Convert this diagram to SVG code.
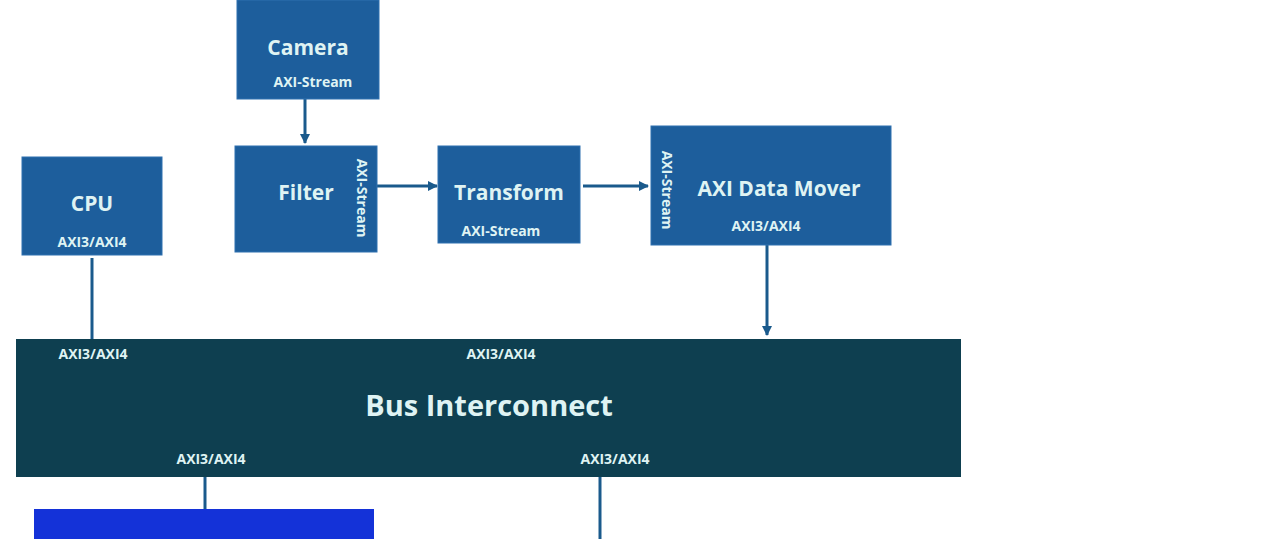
<svg xmlns="http://www.w3.org/2000/svg" width="1269" height="539" viewBox="0 0 1269 539">
<defs>
<marker id="ah" markerWidth="10" markerHeight="10" refX="9" refY="5" orient="auto" markerUnits="userSpaceOnUse"><path d="M0,0 L10,5 L0,10 z" fill="#1a5a8c"/></marker>
<style>
.box{fill:#1d5e9c;stroke:#2f70b0;stroke-width:1}
.t{font-family:"Open Sans","Liberation Sans",sans-serif;font-weight:bold;fill:#dff3f3;text-anchor:middle}
.big{font-size:21px}
.sm{font-size:14px}
.ln{stroke:#1a5a8c;stroke-width:3;fill:none}
</style>
</defs>
<rect width="1269" height="539" fill="#ffffff"/>
<g id="connectors">
<line class="ln" x1="305" y1="99" x2="305" y2="143" marker-end="url(#ah)"/>
<line class="ln" x1="377" y1="186" x2="437" y2="186" marker-end="url(#ah)"/>
<line class="ln" x1="583" y1="186" x2="648" y2="186" marker-end="url(#ah)"/>
<line class="ln" x1="92" y1="258" x2="92" y2="340"/>
<line class="ln" x1="767" y1="245" x2="767" y2="335" marker-end="url(#ah)"/>
<line class="ln" x1="205" y1="477" x2="205" y2="509"/>
<line class="ln" x1="600" y1="477" x2="600" y2="539"/>
</g>
<g id="camera"><rect class="box" x="237" y="0" width="142" height="99"/><text class="t big" x="308" y="55">Camera</text><text class="t sm" x="313" y="87">AXI-Stream</text></g>
<g id="filter"><rect class="box" x="235" y="146" width="142" height="106"/><text class="t big" x="306" y="200">Filter</text><text class="t sm" transform="translate(357,198) rotate(90)">AXI-Stream</text></g>
<g id="transform"><rect class="box" x="438" y="146" width="142" height="97"/><text class="t big" x="509" y="200">Transform</text><text class="t sm" x="501" y="236">AXI-Stream</text></g>
<g id="datamover"><rect class="box" x="651" y="126" width="240" height="119"/><text class="t big" x="779" y="196">AXI Data Mover</text><text class="t sm" x="766" y="231">AXI3/AXI4</text><text class="t sm" transform="translate(662,190) rotate(90)">AXI-Stream</text></g>
<g id="cpu"><rect class="box" x="22" y="157" width="140" height="98"/><text class="t big" x="92" y="211">CPU</text><text class="t sm" x="92" y="247">AXI3/AXI4</text></g>
<g id="bus"><rect x="16" y="339" width="945" height="138" fill="#0e3f50"/>
<text class="t sm" x="93" y="359">AXI3/AXI4</text><text class="t sm" x="501" y="359">AXI3/AXI4</text>
<text class="t" font-size="29" x="489" y="416">Bus Interconnect</text>
<text class="t sm" x="211" y="464">AXI3/AXI4</text><text class="t sm" x="615" y="464">AXI3/AXI4</text></g>
<g id="bottom"><rect x="34" y="509" width="340" height="30" fill="#1432d8"/></g>
</svg>
